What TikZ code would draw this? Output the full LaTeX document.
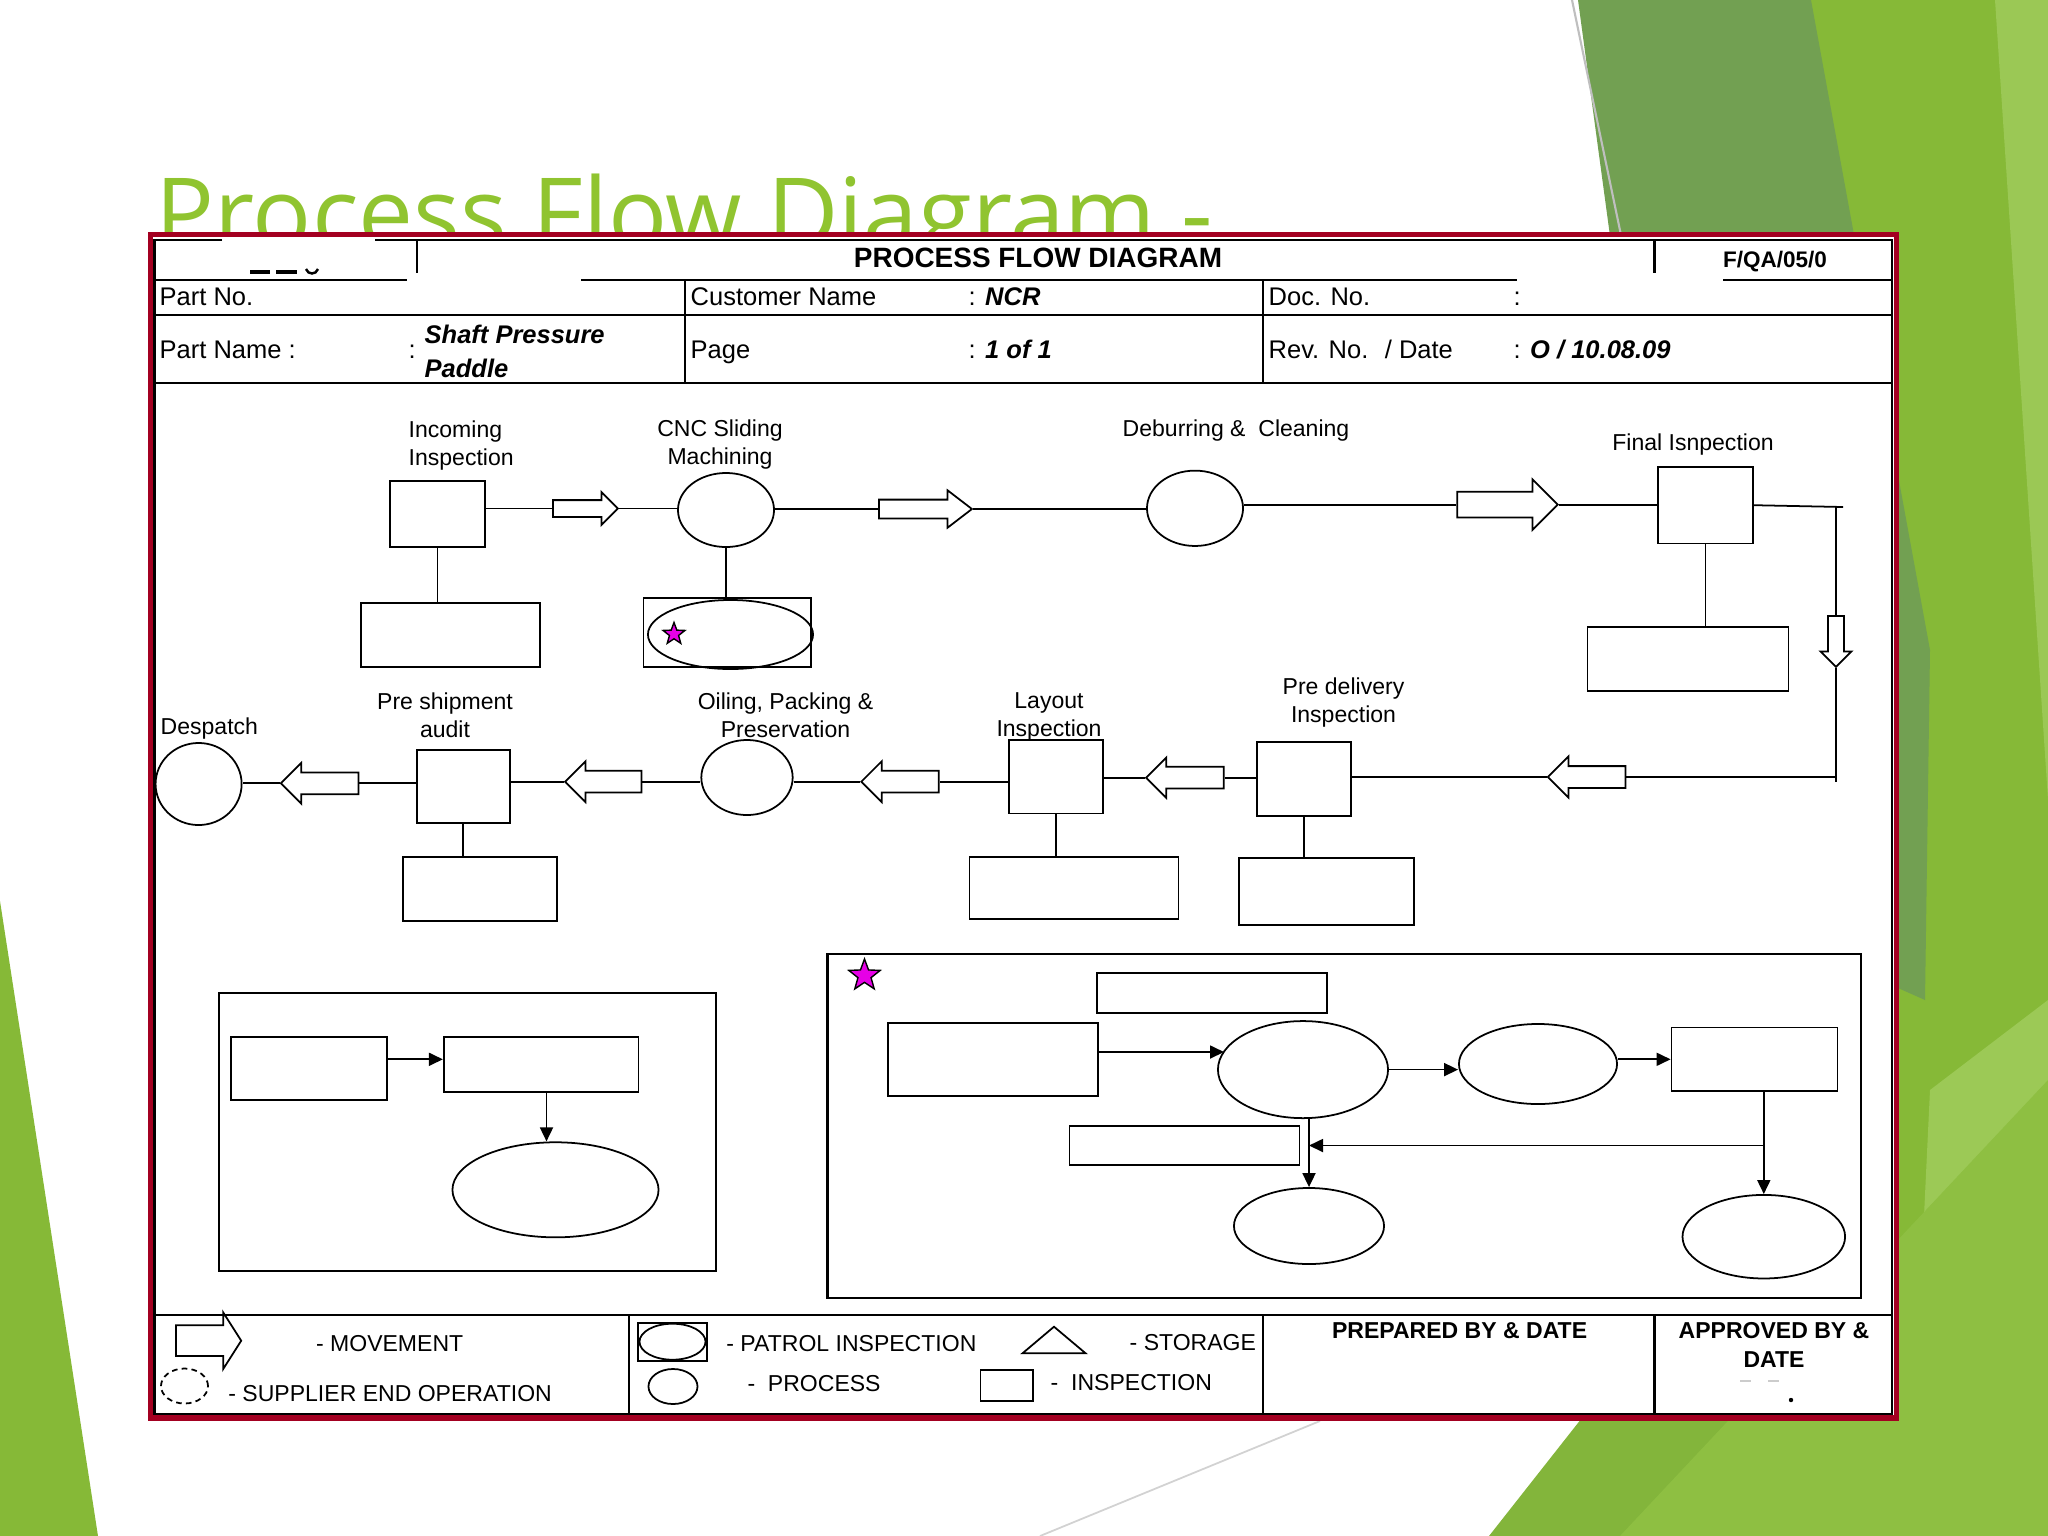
\documentclass[tikz,border=0pt]{standalone}
\usepackage{fontspec}
\setmainfont{Liberation Sans}
\newfontfamily\titlefont{Open Sans}
\usetikzlibrary{arrows.meta,shapes.geometric,shapes.arrows}
\definecolor{framered}{RGB}{163,0,33}
\definecolor{facetgreen}{RGB}{144,196,48}
\definecolor{leafdark}{RGB}{114,160,82}
\definecolor{leaflime}{RGB}{134,185,55}
\definecolor{leaflight}{RGB}{160,204,92}
\definecolor{starpink}{RGB}{230,0,230}

\begin{document}
\begin{tikzpicture}[x=0.01cm, y=-0.01cm,
    insp/.style={draw, rectangle, line width=0.5pt, inner sep=0pt},
    proc/.style={draw, ellipse, line width=0.5pt, inner sep=0pt},
    mv/.style={draw, single arrow, fill=white, line width=0.5pt, inner xsep=0pt, anchor=tail},
    lbl/.style={font=\fontsize{6.55}{8}\selectfont, align=center, inner sep=0pt, anchor=north},
    cell/.style={font=\fontsize{7.25}{8.7}\selectfont, inner sep=0pt, anchor=base west},
    legtext/.style={font=\fontsize{6.55}{8}\selectfont, inner sep=0pt, anchor=west},
    boldtext/.style={font=\bfseries\fontsize{6.55}{8.2}\selectfont, inner sep=0pt, align=center, anchor=north},
    flow/.style={-{Triangle[length=0.14cm,width=0.13cm]}, line width=0.5pt},
    conn/.style={line width=0.5pt},
    tabline/.style={line width=0.75pt},
    pinkstar/.style={star, star points=5, star point ratio=2.4, draw, fill=starpink, line width=0.4pt, inner sep=0pt}]

% slide background
\fill[white] (0,0) rectangle (2048,1536);
\useasboundingbox (0,0) rectangle (2048,1536);
\fill[leaflime] (1800,0) rectangle (2048,1536);
\fill[leaflight!80!leaflime] (1995,0) -- (2048,0) -- (2048,800) -- cycle;
\fill[leafdark] (1578,0) -- (1811,0) -- (1930,650) -- (1925,1000) -- (1700,900) -- cycle;
\fill[leaflight!85!leaflime] (1930,1090) -- (2048,1000) -- (2048,1330) -- (1920,1300) -- cycle;
\fill[leaflime!85!leafdark] (1489,1536) -- (1600,1395) -- (2048,1395) -- (2048,1536) -- cycle;
\fill[leaflime!70!leaflight] (1620,1536) -- (2048,1080) -- (2048,1536) -- cycle;
\fill[leaflime] (0,901) -- (98,1536) -- (0,1536) -- cycle;
\draw[gray!50, line width=0.6pt] (1572,0) -- (1622,240);
\draw[gray!35, line width=0.5pt] (1320,1421) -- (1040,1536);

\node[anchor=base west, inner sep=0pt, text depth=0pt, text=facetgreen, font=\titlefont\fontsize{27.9}{30}\selectfont] (title) at (155,248) {Process Flow Diagram -};

% form frame
\draw[framered, line width=1.5pt, fill=white] (150.2,234.7) rectangle (1896.5,1418);
\draw[tabline] (222,240) -- (154.5,240) -- (154.5,1414) -- (1892,1414) -- (1892,240) -- (375,240);
\draw[tabline] (154.5,280) -- (407,280) (581,280) -- (1517,280) (1723,280) -- (1892,280);
\draw[tabline] (417,240) -- (417,273) (1654.5,240) -- (1654.5,273);
\draw[tabline] (154.5,315) -- (1892,315) (154.5,383) -- (1892,383);
\draw[tabline] (685,280) -- (685,383) (1263,280) -- (1263,383);
\draw[tabline] (154.5,1315) -- (1892,1315);
\draw[tabline] (629,1315) -- (629,1414) (1263,1315) -- (1263,1414) (1654.5,1315) -- (1654.5,1414);
\draw[line width=0.9pt] (250,272) -- (270,272) (276,272) -- (297,272);
\draw[line width=0.7pt] (306,269) .. controls (308,275) and (316,275) .. (318,269);

% header texts
\node[font=\bfseries\fontsize{7.95}{9}\selectfont, inner sep=0pt, anchor=base] (hdr) at (1038,267.5) {PROCESS FLOW DIAGRAM};
\node[font=\bfseries\fontsize{6.4}{8}\selectfont, inner sep=0pt, anchor=base] (form) at (1775,267) {F/QA/05/0};
\node[cell] (partno) at (159,305) {Part No.};
\node[cell] (cust) at (690,305) {Customer Name};
\node[cell] (custval) at (968,305) {: \textbf{\textit{NCR}}};
\node[cell] (docno) at (1268,305) {Doc. No.};
\node[cell] (docval) at (1513,305) {:};
\node[cell] (pname) at (159,358) {Part Name :};
\node[cell] (pcolon) at (408,358) {:};
\node[cell, anchor=north west, align=left, font=\bfseries\itshape\fontsize{7.25}{9.5}\selectfont] (pval) at (424,324.5) {Shaft Pressure\\Paddle};
\node[cell] (page) at (690,358) {Page};
\node[cell] (pageval) at (968,358) {: \textbf{\textit{1 of 1}}};
\node[cell] (rev) at (1268,358) {Rev. No.~ / Date};
\node[cell] (revval) at (1513,358) {: \textbf{\textit{O / 10.08.09}}};

% upper flow
\node[lbl, align=left, anchor=north west] (lii) at (408,420) {Incoming\\Inspection};
\node[lbl] (lcnc) at (720,419) {CNC Sliding\\Machining};
\node[lbl] (ldeb) at (1236,419) {Deburring \&~ Cleaning};
\node[lbl] (lfin) at (1693,433) {Final Isnpection};

\node[insp, minimum width=0.95cm, minimum height=0.66cm] (ii) at (437.5,514) {};
\node[insp, minimum width=1.79cm, minimum height=0.64cm] (iirec) at (450.5,635) {};
\node[mv, minimum height=0.65cm, inner ysep=0.075cm, single arrow head extend=0.08cm] (a1) at (552,508.5) {};
\node[proc, minimum width=0.96cm, minimum height=0.74cm] (cnc) at (726,510) {};
\node[insp, minimum width=1.674cm, minimum height=0.69cm] (cncrec) at (727.3,632.5) {};
\node[proc, minimum width=1.65cm, minimum height=0.69cm] (cncpat) at (730.5,634.5) {};
\node[pinkstar, minimum size=0.23cm] (star1) at (674,634) {};
\node[mv, minimum height=0.93cm, inner ysep=0.085cm, single arrow head extend=0.093cm, single arrow tip angle=75] (a2) at (878,509) {};
\node[proc, minimum width=0.96cm, minimum height=0.753cm] (deb) at (1195,508.3) {};
\node[mv, minimum height=1.004cm, inner ysep=0.12cm, single arrow head extend=0.123cm] (a3) at (1456.4,504.7) {};
\node[insp, minimum width=0.955cm, minimum height=0.763cm] (fin) at (1705.5,505.2) {};
\node[insp, minimum width=2.01cm, minimum height=0.64cm] (finrec) at (1688,659) {};
\coordinate (rtop) at (1836,507);
\coordinate (rbot) at (1836,777);
\node[mv, shape border rotate=270, minimum height=0.51cm, inner xsep=0.0715cm, inner ysep=0pt, single arrow head extend=0.074cm] (a4) at (1836,615) {};

\draw[conn] (a1.tail -| ii.east) -- (a1.tail);
\draw[conn] (a1.tip) -- (a1.tip -| cnc.west);
\draw[conn] (ii.south) -- (ii.south |- iirec.north);
\draw[conn] (cnc.south) -- (cnc.south |- cncrec.north);
\draw[conn] (a2.tail -| cnc.east) -- (a2.tail);
\draw[conn] (a2.tip) -- (a2.tip -| deb.west);
\draw[conn] (a3.tail -| deb.east) -- (a3.tail);
\draw[conn] (a3.tip) -- (a3.tip -| fin.west);
\draw[conn] (fin.south) -- (fin.south |- finrec.north);
\draw[conn] (fin.east) -- ([xshift=0.07cm]rtop);
\draw[conn] (rtop) -- (a4.tail);
\draw[conn] (a4.tip) -- ([yshift=-0.05cm]rbot);

% lower flow
\node[lbl, align=left, anchor=north west] (ldesp) at (160,717) {Despatch};
\node[lbl] (lpsa) at (445,692) {Pre shipment\\audit};
\node[lbl] (loil) at (785.5,692) {Oiling, Packing \&\\Preservation};
\node[lbl] (llay) at (1049,692) {Layout\\Inspection};
\node[lbl] (lpdi) at (1343.5,677) {Pre delivery\\Inspection};

\node[mv, shape border rotate=180, minimum height=0.776cm, inner ysep=0.1cm, single arrow head extend=0.097cm] (a5) at (1626.4,777) {};
\node[insp, minimum width=0.94cm, minimum height=0.743cm] (pdi) at (1304.3,778.9) {};
\node[insp, minimum width=1.746cm, minimum height=0.667cm] (pdirec) at (1326.3,891.7) {};
\node[mv, shape border rotate=180, minimum height=0.775cm, inner ysep=0.1cm, single arrow head extend=0.092cm] (a6) at (1224.5,777.7) {};
\node[insp, minimum width=0.945cm, minimum height=0.733cm] (lay) at (1056,776.7) {};
\node[insp, minimum width=2.09cm, minimum height=0.626cm] (layrec) at (1074,888) {};
\node[mv, shape border rotate=180, minimum height=0.775cm, inner ysep=0.1cm, single arrow head extend=0.095cm] (a7) at (939.7,781.7) {};
\node[proc, minimum width=0.913cm, minimum height=0.75cm] (oil) at (747,777.5) {};
\node[mv, shape border rotate=180, minimum height=0.763cm, inner ysep=0.1cm, single arrow head extend=0.095cm] (a8) at (642.3,781.7) {};
\node[insp, minimum width=0.93cm, minimum height=0.727cm] (psa) at (463.2,786.4) {};
\node[insp, minimum width=1.54cm, minimum height=0.64cm] (psarec) at (480,888.7) {};
\node[mv, shape border rotate=180, minimum height=0.775cm, inner ysep=0.1cm, single arrow head extend=0.095cm] (a9) at (359.3,783.3) {};
\node[proc, minimum width=0.86cm, minimum height=0.82cm] (desp) at (198.6,784) {};

\draw[conn] (rbot) -- (a5.tail);
\draw[conn] (a5.tip) -- (a5.tip -| pdi.east);
\draw[conn] (pdi.south) -- (pdi.south |- pdirec.north);
\draw[conn] (a6.tail -| pdi.west) -- (a6.tail);
\draw[conn] (a6.tip) -- (a6.tip -| lay.east);
\draw[conn] (lay.south) -- (lay.south |- layrec.north);
\draw[conn] (a7.tail -| lay.west) -- (a7.tail);
\draw[conn] (a7.tip) -- (a7.tip -| oil.east);
\draw[conn] (a8.tail -| oil.west) -- (a8.tail);
\draw[conn] (a8.tip) -- (a8.tip -| psa.east);
\draw[conn] (psa.south) -- (psa.south |- psarec.north);
\draw[conn] (a9.tail -| psa.west) -- (a9.tail);
\draw[conn] (a9.tip) -- (a9.tip -| desp.east);

% left sample panel
\node[insp, line width=0.7pt, minimum width=4.963cm, minimum height=2.777cm] (leftpanel) at (467.45,1132.15) {};
\node[insp, minimum width=1.557cm, minimum height=0.627cm] (pa) at (308.75,1068.65) {};
\node[insp, minimum width=1.946cm, minimum height=0.544cm] (pb) at (541.1,1064.5) {};
\node[proc, minimum width=2.06cm, minimum height=0.95cm] (pc) at (555.5,1189.8) {};
\draw[flow] (pa.east |- 0,1059.3) -- (pb.west |- 0,1059.3);
\draw[flow] (546.5,1091.7) -- (pc.north -| 546.5,0);

% right sample panel
\node[insp, line width=0.7pt, minimum width=10.327cm, minimum height=3.44cm] (rightpanel) at (1344.35,1126) {};
\node[pinkstar, minimum size=0.33cm] (star2) at (864.5,975.5) {};
\node[insp, minimum width=2.3cm, minimum height=0.4cm] (qtop) at (1212,993) {};
\node[insp, minimum width=2.1cm, minimum height=0.73cm] (qleft) at (993,1059.5) {};
\node[proc, minimum width=1.7cm, minimum height=0.97cm] (qe1) at (1303,1069.6) {};
\node[proc, minimum width=1.58cm, minimum height=0.8cm] (qe2) at (1538,1064) {};
\node[insp, minimum width=1.66cm, minimum height=0.635cm] (qright) at (1754.5,1059.3) {};
\node[proc, minimum width=1.625cm, minimum height=0.835cm] (qe3) at (1763.8,1236.7) {};
\node[proc, minimum width=1.5cm, minimum height=0.76cm] (qe4) at (1309,1226) {};
\node[insp, minimum width=2.3cm, minimum height=0.39cm] (qmid) at (1184.5,1145.5) {};
\draw[flow] (qleft.east |- 0,1052) -- (1224,1052);
\draw[flow] (qe1.east) -- (qe1.east -| qe2.west);
\draw[flow] (qe2.east |- qright.west) -- (qright.west);
\draw[flow] (qe3.north |- qright.south) -- (qe3.north);
\draw[flow] (qe3.north |- qmid.east) -- (qe4.north |- qmid.east);
\draw[flow] (qe4.north |- qe1.south) -- (qe4.north);

% legend
\node[mv, minimum height=0.653cm, inner ysep=0.145cm, single arrow head extend=0.13cm, single arrow tip angle=115] (lgmv) at (175,1340.7) {};
\node[legtext] (tmv) at (315.4,1344) {- MOVEMENT};
\node[proc, dashed, dash pattern=on 1.6pt off 1.2pt, minimum width=0.47cm, minimum height=0.35cm] (lgsup) at (184.5,1386) {};
\node[legtext] (tsup) at (227.7,1393.5) {- SUPPLIER END OPERATION};
\node[insp, minimum width=0.69cm, minimum height=0.38cm] (lgpat) at (672.5,1341.7) {};
\node[proc, minimum width=0.66cm, minimum height=0.36cm] (lgpatc) at (672.5,1341.7) {};
\node[legtext] (tpat) at (725.7,1343.3) {- PATROL INSPECTION};
\draw[conn] (1022.5,1353.3) -- (1085.6,1353.3) -- (1054,1326.7) -- cycle;
\node[legtext] (tsto) at (1129,1343) {- STORAGE};
\node[proc, minimum width=0.49cm, minimum height=0.35cm] (lgproc) at (673,1386.5) {};
\node[legtext] (tproc) at (746.8,1383.5) {-~ PROCESS};
\node[insp, minimum width=0.526cm, minimum height=0.307cm] (lginsp) at (1006.7,1385.35) {};
\node[legtext] (tinsp) at (1050,1383) {-~ INSPECTION};
\node[boldtext] (prep) at (1459.6,1321.7) {PREPARED BY \& DATE};
\node[boldtext, font=\bfseries\fontsize{6.55}{8.3}\selectfont] (appr) at (1774,1322) {APPROVED BY \&\\DATE};
\draw[gray!40, line width=0.6pt, dash pattern=on 3pt off 5pt] (1740,1381) -- (1792,1381);
\fill (1791,1400) circle[radius=0.022cm];
\end{tikzpicture}
\end{document}
